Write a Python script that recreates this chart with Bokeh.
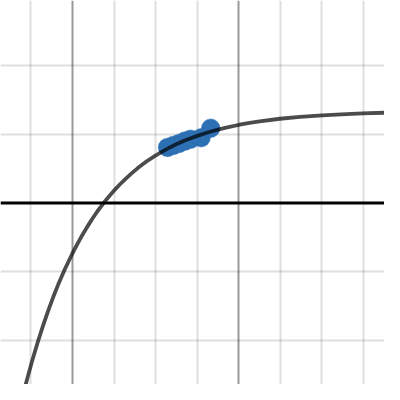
from bokeh.plotting import figure
from bokeh.models import Range1d, FixedTicker, Grid, Span
from bokeh.embed import file_html
from bokeh.resources import INLINE

# Fitted curve
curve_x = [2.821, 2.925, 3.029, 3.168, 3.295, 3.422, 3.538, 3.653, 3.815, 4.000, 4.116, 4.231,
           4.347, 4.462, 4.601, 4.740, 4.879, 5.017, 5.145, 5.272, 5.422, 5.572,
           5.780, 5.988, 6.150, 6.312, 6.486, 6.659, 6.832, 7.006, 7.180, 7.353,
           7.526, 7.699, 8.023, 8.266, 8.509, 8.994, 9.480, 10.012, 10.474, 10.983, 11.561]
curve_y = [-2.756, -2.518, -2.291, -2.011, -1.773, -1.551, -1.362, -1.188, -0.962, -0.729,
           -0.596, -0.470, -0.353, -0.243, -0.119, -0.007, 0.097, 0.192, 0.273, 0.349,
           0.431, 0.508, 0.604, 0.686, 0.744, 0.798, 0.850, 0.897, 0.938, 0.976,
           1.011, 1.043, 1.071, 1.096, 1.138, 1.165, 1.187, 1.225, 1.252, 1.275,
           1.290, 1.303, 1.313]

# Data points
pts_x = [6.289, 6.428, 6.566, 6.705, 6.844, 7.098, 7.329]
pts_y = [0.809, 0.837, 0.865, 0.900, 0.928, 0.949, 1.088]

# Grid positions
minor_x = [3, 5, 6, 7, 9, 10, 11]
major_x = [4, 8]
minor_y = [-2, -1, 1, 2]

p = figure(width=384, height=384, output_backend="svg", toolbar_location=None,
           x_range=Range1d(2.2659, 11.5145), y_range=Range1d(-2.636, 2.943),
           x_axis_location=None, y_axis_location=None, min_border=0)
p.outline_line_color = None
p.background_fill_color = "white"

p.xgrid[0].ticker = FixedTicker(ticks=minor_x)
p.xgrid[0].grid_line_color = "black"
p.xgrid[0].grid_line_alpha = 0.13
p.xgrid[0].grid_line_width = 2
p.ygrid[0].ticker = FixedTicker(ticks=minor_y)
p.ygrid[0].grid_line_color = "black"
p.ygrid[0].grid_line_alpha = 0.13
p.ygrid[0].grid_line_width = 2

major = Grid(dimension=0, ticker=FixedTicker(ticks=major_x),
             grid_line_color="black", grid_line_alpha=0.4, grid_line_width=2)
p.add_layout(major)

p.add_layout(Span(location=0, dimension="width", line_color="black", line_width=2.9))

p.scatter(pts_x, pts_y, size=18.5, fill_color="#2d70b3", line_color="#2d70b3",
          line_width=0.5)
p.line(curve_x, curve_y, line_color="black", line_alpha=0.7, line_width=3.8,
       line_join="round")

open("out.html", "w").write(file_html(p, INLINE))
